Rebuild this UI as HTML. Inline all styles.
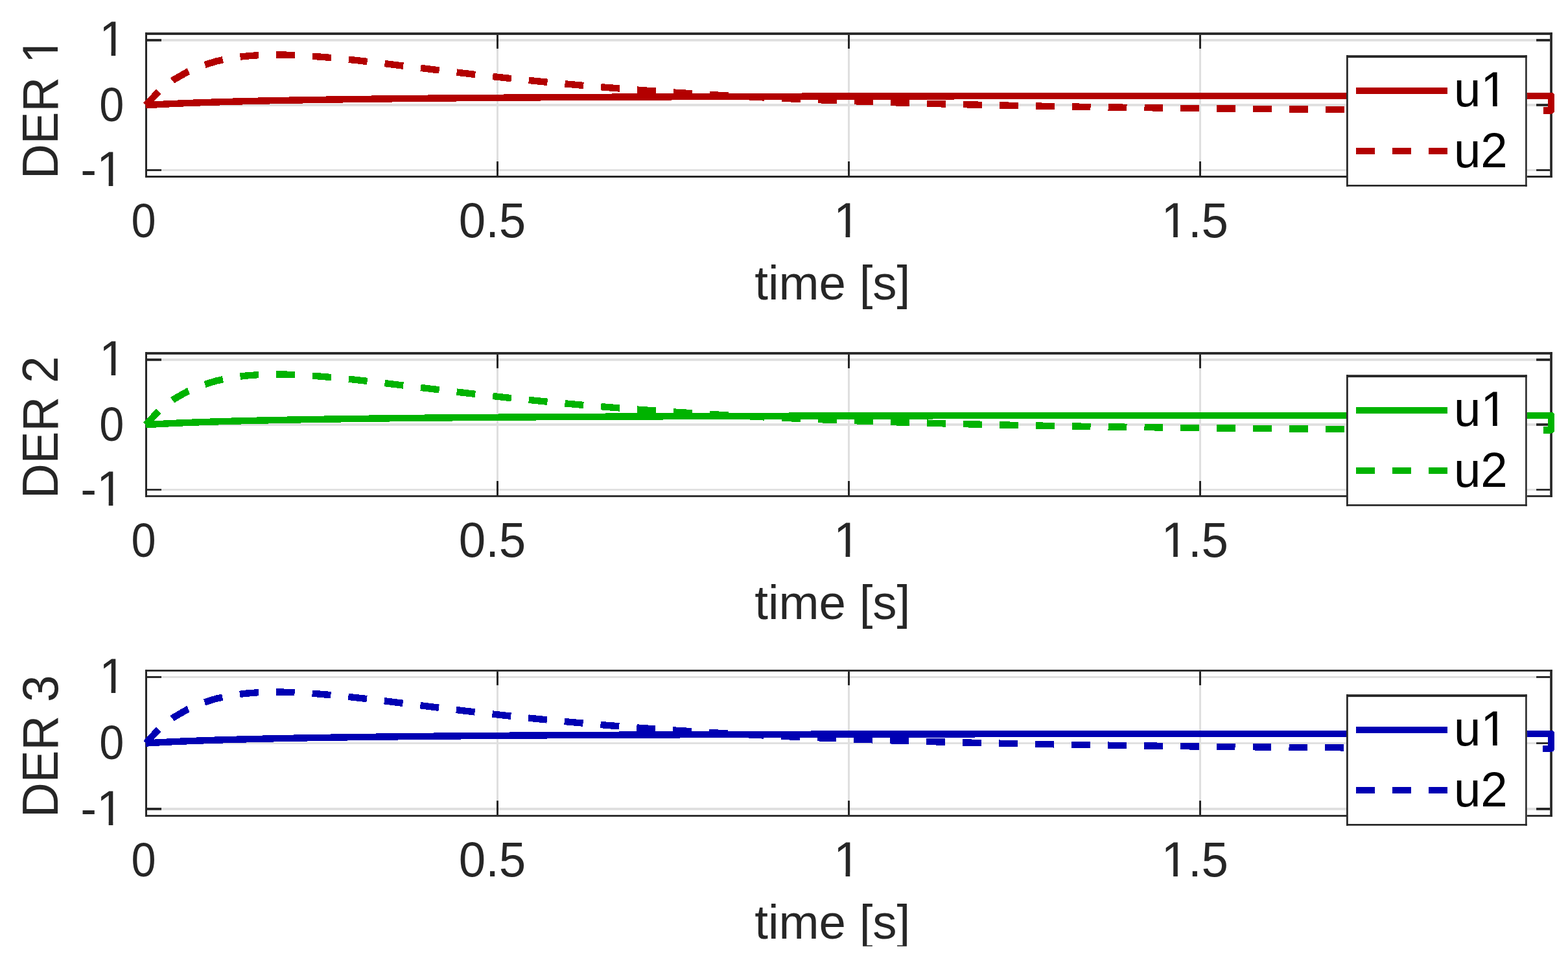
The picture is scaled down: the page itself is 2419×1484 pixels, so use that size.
<!DOCTYPE html>
<html lang="en"><head><meta charset="utf-8"><title>DER control inputs</title>
<style>
html,body{margin:0;padding:0;background:#fff;}
svg{display:block;}
text{font-family:"Liberation Sans",sans-serif;font-size:74.5px;fill:#262626;}
.lg{fill:#000;}
.cv{fill:none;stroke-width:10.4;shape-rendering:crispEdges;stroke-linejoin:round;stroke-linecap:butt;}
</style></head><body>
<svg width="2419" height="1484" viewBox="0 0 2419 1484">
<rect x="0" y="0" width="2419" height="1484" fill="#fff"/>
<defs><clipPath id="k-1" clipPathUnits="userSpaceOnUse"><rect x="-30" y="-100" width="170.00" height="94.08"/><rect x="18.68" y="-6.42" width="6.68" height="12"/><rect x="-30" y="-6.42" width="34.47" height="40"/><rect x="39.00" y="-6.42" width="101.00" height="40"/></clipPath><clipPath id="k-m1" clipPathUnits="userSpaceOnUse"><rect x="-30" y="-100" width="130.00" height="94.08"/><rect x="43.49" y="-6.42" width="6.68" height="12"/><rect x="-30" y="-6.42" width="59.28" height="40"/><rect x="63.80" y="-6.42" width="36.20" height="40"/></clipPath><clipPath id="k-u1" clipPathUnits="userSpaceOnUse"><rect x="-30" y="-100" width="150.00" height="94.08"/><rect x="60.12" y="-6.42" width="6.68" height="12"/><rect x="-30" y="-6.42" width="75.91" height="40"/><rect x="80.43" y="-6.42" width="39.57" height="40"/></clipPath><clipPath id="k-der1" clipPathUnits="userSpaceOnUse"><rect x="-30" y="-100" width="290.00" height="94.08"/><rect x="196.68" y="-6.42" width="6.68" height="12"/><rect x="-30" y="-6.42" width="212.47" height="40"/><rect x="216.99" y="-6.42" width="43.01" height="40"/></clipPath></defs>
<g id="der1">
<rect x="227.00" y="60.10" width="2164.20" height="3.75" fill="#dfdfdf"/>
<rect x="227.00" y="160.10" width="2164.20" height="3.80" fill="#dfdfdf"/>
<rect x="227.00" y="261.00" width="2164.20" height="2.90" fill="#dfdfdf"/>
<rect x="766.00" y="53.90" width="3.00" height="217.10" fill="#dfdfdf"/>
<rect x="1308.00" y="53.90" width="3.00" height="217.10" fill="#dfdfdf"/>
<rect x="1850.00" y="53.90" width="3.00" height="217.10" fill="#dfdfdf"/>
<rect x="224.00" y="50.10" width="2170.90" height="3.80" fill="#262626"/>
<rect x="224.00" y="271.00" width="2170.90" height="3.00" fill="#262626"/>
<rect x="224.00" y="50.10" width="3.00" height="223.90" fill="#262626"/>
<rect x="2391.20" y="50.10" width="3.70" height="223.90" fill="#262626"/>
<rect x="227.00" y="60.10" width="22.00" height="3.75" fill="#262626"/>
<rect x="2370.10" y="60.10" width="21.10" height="3.75" fill="#262626"/>
<rect x="227.00" y="160.10" width="22.00" height="3.80" fill="#262626"/>
<rect x="2370.10" y="160.10" width="21.10" height="3.80" fill="#262626"/>
<rect x="227.00" y="261.00" width="22.00" height="2.90" fill="#262626"/>
<rect x="2370.10" y="261.00" width="21.10" height="2.90" fill="#262626"/>
<rect x="766.00" y="53.90" width="3.00" height="21.20" fill="#262626"/>
<rect x="766.00" y="249.00" width="3.00" height="22.00" fill="#262626"/>
<rect x="1308.00" y="53.90" width="3.00" height="21.20" fill="#262626"/>
<rect x="1308.00" y="249.00" width="3.00" height="22.00" fill="#262626"/>
<rect x="1850.00" y="53.90" width="3.00" height="21.20" fill="#262626"/>
<rect x="1850.00" y="249.00" width="3.00" height="22.00" fill="#262626"/>
<path class="cv" d="M225.00,162.25 L246.68,161.00 L268.36,159.93 L290.04,159.00 L311.72,158.19 L333.40,157.46 L355.08,156.82 L376.76,156.23 L398.44,155.70 L420.12,155.22 L441.80,154.78 L463.48,154.37 L485.16,153.99 L506.84,153.64 L528.52,153.31 L550.20,153.00 L571.88,152.72 L593.56,152.45 L615.24,152.19 L636.92,151.95 L658.60,151.73 L680.28,151.52 L701.96,151.32 L723.64,151.13 L745.32,150.95 L767.00,150.78 L788.68,150.62 L810.36,150.47 L832.04,150.33 L853.72,150.19 L875.40,150.06 L897.08,149.94 L918.76,149.83 L940.44,149.72 L962.12,149.62 L983.80,149.52 L1005.48,149.43 L1027.16,149.34 L1048.84,149.26 L1070.52,149.18 L1092.20,149.11 L1113.88,149.04 L1135.56,148.97 L1157.24,148.91 L1178.92,148.85 L1200.60,148.80 L1222.28,148.74 L1243.96,148.69 L1265.64,148.65 L1287.32,148.60 L1309.00,148.56 L1330.68,148.52 L1352.36,148.48 L1374.04,148.45 L1395.72,148.41 L1417.40,148.38 L1439.08,148.35 L1460.76,148.32 L1482.44,148.29 L1504.12,148.27 L1525.80,148.24 L1547.48,148.22 L1569.16,148.20 L1590.84,148.18 L1612.52,148.16 L1634.20,148.14 L1655.88,148.12 L1677.56,148.10 L1699.24,148.09 L1720.92,148.07 L1742.60,148.06 L1764.28,148.05 L1785.96,148.03 L1807.64,148.02 L1829.32,148.01 L1851.00,148.00 L1872.68,147.99 L1894.36,147.98 L1916.04,147.97 L1937.72,147.96 L1959.40,147.95 L1981.08,147.95 L2002.76,147.94 L2024.44,147.93 L2046.12,147.92 L2067.80,147.92 L2089.48,147.91 L2111.16,147.91 L2132.84,147.90 L2154.52,147.90 L2176.20,147.89 L2197.88,147.89 L2219.56,147.88 L2241.24,147.88 L2262.92,147.88 L2284.60,147.87 L2306.28,147.87 L2327.96,147.87 L2349.64,147.86 L2371.32,147.86 L2393.00,147.86 L2393.00,147.86 L2393.00,162.25" stroke="#b30000"/>
<path class="cv" d="M225.00,162.25 L246.68,139.09 L268.36,122.71 L290.04,110.43 L311.72,101.25 L333.40,94.57 L355.08,89.90 L376.76,86.87 L398.44,85.16 L420.12,84.51 L441.80,84.70 L463.48,85.56 L485.16,86.94 L506.84,88.72 L528.52,90.80 L550.20,93.11 L571.88,95.57 L593.56,98.14 L615.24,100.77 L636.92,103.43 L658.60,106.09 L680.28,108.72 L701.96,111.32 L723.64,113.87 L745.32,116.36 L767.00,118.78 L788.68,121.13 L810.36,123.39 L832.04,125.58 L853.72,127.69 L875.40,129.71 L897.08,131.66 L918.76,133.52 L940.44,135.31 L962.12,137.02 L983.80,138.66 L1005.48,140.22 L1027.16,141.72 L1048.84,143.14 L1070.52,144.51 L1092.20,145.81 L1113.88,147.05 L1135.56,148.23 L1157.24,149.35 L1178.92,150.43 L1200.60,151.45 L1222.28,152.43 L1243.96,153.36 L1265.64,154.24 L1287.32,155.08 L1309.00,155.89 L1330.68,156.65 L1352.36,157.38 L1374.04,158.07 L1395.72,158.73 L1417.40,159.36 L1439.08,159.96 L1460.76,160.53 L1482.44,161.07 L1504.12,161.59 L1525.80,162.08 L1547.48,162.54 L1569.16,162.99 L1590.84,163.41 L1612.52,163.82 L1634.20,164.20 L1655.88,164.57 L1677.56,164.91 L1699.24,165.24 L1720.92,165.56 L1742.60,165.86 L1764.28,166.14 L1785.96,166.42 L1807.64,166.67 L1829.32,166.92 L1851.00,167.15 L1872.68,167.38 L1894.36,167.59 L1916.04,167.79 L1937.72,167.98 L1959.40,168.17 L1981.08,168.34 L2002.76,168.51 L2024.44,168.66 L2046.12,168.81 L2067.80,168.96 L2089.48,169.09 L2111.16,169.22 L2132.84,169.34 L2154.52,169.46 L2176.20,169.57 L2197.88,169.68 L2219.56,169.78 L2241.24,169.88 L2262.92,169.97 L2284.60,170.05 L2306.28,170.14 L2327.96,170.22 L2349.64,170.29 L2371.32,170.36 L2393.00,170.43 L2393.00,170.43 L2393.00,162.25" stroke="#b30000" stroke-dasharray="28.9 27.04"/>
<rect x="2077.00" y="85.20" width="278.70" height="202.50" fill="#fff"/>
<rect x="2077.00" y="85.20" width="278.70" height="3.90" fill="#262626"/>
<rect x="2077.00" y="285.00" width="278.70" height="2.70" fill="#262626"/>
<rect x="2077.00" y="85.20" width="2.75" height="202.50" fill="#262626"/>
<rect x="2353.15" y="85.20" width="2.55" height="202.50" fill="#262626"/>
<path class="cv" d="M2091.9,140.10 L2233.1,140.10" stroke="#b30000"/>
<path class="cv" d="M2091.9,232.80 L2233.1,232.80" stroke="#b30000" stroke-dasharray="29 27.1"/>
<text class="lg" clip-path="url(#k-u1)" transform="translate(2242.90,163.75) scale(1.0,1.02)">u1</text>
<text class="lg" transform="translate(2242.90,258.00) scale(1.0,1.02)">u2</text>
<text clip-path="url(#k-1)" transform="translate(152.90,86.00) scale(1.0,1.02)">1</text>
<text x="-20.72" transform="translate(172.40,187.30) scale(0.92,1.0)">0</text>
<text clip-path="url(#k-m1)" transform="translate(124.20,286.60) scale(1.0,1.02)">-1</text>
<text x="-20.72" transform="translate(221.50,366.30) scale(0.92,1.0)">0</text>
<text transform="translate(707.70,366.00) scale(1.0,1.02)">0.5</text>
<text clip-path="url(#k-1)" transform="translate(1285.90,366.00) scale(1.0,1.02)">1</text>
<text clip-path="url(#k-1)" transform="translate(1791.50,366.00) scale(1.0,1.02)">1.5</text>
<text transform="translate(1164.20,461.90)">time [s]</text>
<text clip-path="url(#k-der1)" transform="translate(89.00,276.00) rotate(-90) scale(1.0,1.037)">DER 1</text>
</g>
<g id="der2">
<rect x="227.00" y="553.06" width="2164.20" height="3.74" fill="#dfdfdf"/>
<rect x="227.00" y="653.10" width="2164.20" height="3.80" fill="#dfdfdf"/>
<rect x="227.00" y="754.10" width="2164.20" height="2.70" fill="#dfdfdf"/>
<rect x="766.00" y="546.90" width="3.00" height="217.10" fill="#dfdfdf"/>
<rect x="1308.00" y="546.90" width="3.00" height="217.10" fill="#dfdfdf"/>
<rect x="1850.00" y="546.90" width="3.00" height="217.10" fill="#dfdfdf"/>
<rect x="224.00" y="543.10" width="2170.90" height="3.80" fill="#262626"/>
<rect x="224.00" y="764.00" width="2170.90" height="2.80" fill="#262626"/>
<rect x="224.00" y="543.10" width="3.00" height="223.70" fill="#262626"/>
<rect x="2391.20" y="543.10" width="3.70" height="223.70" fill="#262626"/>
<rect x="227.00" y="553.06" width="22.00" height="3.74" fill="#262626"/>
<rect x="2370.10" y="553.06" width="21.10" height="3.74" fill="#262626"/>
<rect x="227.00" y="653.10" width="22.00" height="3.80" fill="#262626"/>
<rect x="2370.10" y="653.10" width="21.10" height="3.80" fill="#262626"/>
<rect x="227.00" y="754.10" width="22.00" height="2.70" fill="#262626"/>
<rect x="2370.10" y="754.10" width="21.10" height="2.70" fill="#262626"/>
<rect x="766.00" y="546.90" width="3.00" height="21.20" fill="#262626"/>
<rect x="766.00" y="742.00" width="3.00" height="22.00" fill="#262626"/>
<rect x="1308.00" y="546.90" width="3.00" height="21.20" fill="#262626"/>
<rect x="1308.00" y="742.00" width="3.00" height="22.00" fill="#262626"/>
<rect x="1850.00" y="546.90" width="3.00" height="21.20" fill="#262626"/>
<rect x="1850.00" y="742.00" width="3.00" height="22.00" fill="#262626"/>
<path class="cv" d="M225.00,655.20 L246.68,653.95 L268.36,652.88 L290.04,651.95 L311.72,651.14 L333.40,650.41 L355.08,649.77 L376.76,649.18 L398.44,648.65 L420.12,648.17 L441.80,647.73 L463.48,647.32 L485.16,646.94 L506.84,646.59 L528.52,646.26 L550.20,645.95 L571.88,645.67 L593.56,645.40 L615.24,645.14 L636.92,644.90 L658.60,644.68 L680.28,644.47 L701.96,644.27 L723.64,644.08 L745.32,643.90 L767.00,643.73 L788.68,643.57 L810.36,643.42 L832.04,643.28 L853.72,643.14 L875.40,643.01 L897.08,642.89 L918.76,642.78 L940.44,642.67 L962.12,642.57 L983.80,642.47 L1005.48,642.38 L1027.16,642.29 L1048.84,642.21 L1070.52,642.13 L1092.20,642.06 L1113.88,641.99 L1135.56,641.92 L1157.24,641.86 L1178.92,641.80 L1200.60,641.75 L1222.28,641.69 L1243.96,641.64 L1265.64,641.60 L1287.32,641.55 L1309.00,641.51 L1330.68,641.47 L1352.36,641.43 L1374.04,641.40 L1395.72,641.36 L1417.40,641.33 L1439.08,641.30 L1460.76,641.27 L1482.44,641.24 L1504.12,641.22 L1525.80,641.19 L1547.48,641.17 L1569.16,641.15 L1590.84,641.13 L1612.52,641.11 L1634.20,641.09 L1655.88,641.07 L1677.56,641.05 L1699.24,641.04 L1720.92,641.02 L1742.60,641.01 L1764.28,641.00 L1785.96,640.98 L1807.64,640.97 L1829.32,640.96 L1851.00,640.95 L1872.68,640.94 L1894.36,640.93 L1916.04,640.92 L1937.72,640.91 L1959.40,640.90 L1981.08,640.90 L2002.76,640.89 L2024.44,640.88 L2046.12,640.87 L2067.80,640.87 L2089.48,640.86 L2111.16,640.86 L2132.84,640.85 L2154.52,640.85 L2176.20,640.84 L2197.88,640.84 L2219.56,640.83 L2241.24,640.83 L2262.92,640.83 L2284.60,640.82 L2306.28,640.82 L2327.96,640.82 L2349.64,640.81 L2371.32,640.81 L2393.00,640.81 L2393.00,640.81 L2393.00,655.20" stroke="#00b300"/>
<path class="cv" d="M225.00,655.20 L246.68,632.04 L268.36,615.66 L290.04,603.38 L311.72,594.20 L333.40,587.52 L355.08,582.85 L376.76,579.82 L398.44,578.11 L420.12,577.46 L441.80,577.65 L463.48,578.51 L485.16,579.89 L506.84,581.67 L528.52,583.75 L550.20,586.06 L571.88,588.52 L593.56,591.09 L615.24,593.72 L636.92,596.38 L658.60,599.04 L680.28,601.67 L701.96,604.27 L723.64,606.82 L745.32,609.31 L767.00,611.73 L788.68,614.08 L810.36,616.34 L832.04,618.53 L853.72,620.64 L875.40,622.66 L897.08,624.61 L918.76,626.47 L940.44,628.26 L962.12,629.97 L983.80,631.61 L1005.48,633.17 L1027.16,634.67 L1048.84,636.09 L1070.52,637.46 L1092.20,638.76 L1113.88,640.00 L1135.56,641.18 L1157.24,642.30 L1178.92,643.38 L1200.60,644.40 L1222.28,645.38 L1243.96,646.31 L1265.64,647.19 L1287.32,648.03 L1309.00,648.84 L1330.68,649.60 L1352.36,650.33 L1374.04,651.02 L1395.72,651.68 L1417.40,652.31 L1439.08,652.91 L1460.76,653.48 L1482.44,654.02 L1504.12,654.54 L1525.80,655.03 L1547.48,655.49 L1569.16,655.94 L1590.84,656.36 L1612.52,656.77 L1634.20,657.15 L1655.88,657.52 L1677.56,657.86 L1699.24,658.19 L1720.92,658.51 L1742.60,658.81 L1764.28,659.09 L1785.96,659.37 L1807.64,659.62 L1829.32,659.87 L1851.00,660.10 L1872.68,660.33 L1894.36,660.54 L1916.04,660.74 L1937.72,660.93 L1959.40,661.12 L1981.08,661.29 L2002.76,661.46 L2024.44,661.61 L2046.12,661.76 L2067.80,661.91 L2089.48,662.04 L2111.16,662.17 L2132.84,662.29 L2154.52,662.41 L2176.20,662.52 L2197.88,662.63 L2219.56,662.73 L2241.24,662.83 L2262.92,662.92 L2284.60,663.00 L2306.28,663.09 L2327.96,663.17 L2349.64,663.24 L2371.32,663.31 L2393.00,663.38 L2393.00,663.38 L2393.00,655.20" stroke="#00b300" stroke-dasharray="28.9 27.04"/>
<rect x="2077.00" y="578.20" width="278.70" height="202.50" fill="#fff"/>
<rect x="2077.00" y="578.20" width="278.70" height="3.90" fill="#262626"/>
<rect x="2077.00" y="778.00" width="278.70" height="2.70" fill="#262626"/>
<rect x="2077.00" y="578.20" width="2.75" height="202.50" fill="#262626"/>
<rect x="2353.15" y="578.20" width="2.55" height="202.50" fill="#262626"/>
<path class="cv" d="M2091.9,633.10 L2233.1,633.10" stroke="#00b300"/>
<path class="cv" d="M2091.9,725.80 L2233.1,725.80" stroke="#00b300" stroke-dasharray="29 27.1"/>
<text class="lg" clip-path="url(#k-u1)" transform="translate(2242.90,656.75) scale(1.0,1.02)">u1</text>
<text class="lg" transform="translate(2242.90,751.00) scale(1.0,1.02)">u2</text>
<text clip-path="url(#k-1)" transform="translate(152.90,579.00) scale(1.0,1.02)">1</text>
<text x="-20.72" transform="translate(172.40,680.30) scale(0.92,1.0)">0</text>
<text clip-path="url(#k-m1)" transform="translate(124.20,779.60) scale(1.0,1.02)">-1</text>
<text x="-20.72" transform="translate(221.50,859.30) scale(0.92,1.0)">0</text>
<text transform="translate(707.70,859.00) scale(1.0,1.02)">0.5</text>
<text clip-path="url(#k-1)" transform="translate(1285.90,859.00) scale(1.0,1.02)">1</text>
<text clip-path="url(#k-1)" transform="translate(1791.50,859.00) scale(1.0,1.02)">1.5</text>
<text transform="translate(1164.20,954.90)">time [s]</text>
<text transform="translate(89.00,769.00) rotate(-90) scale(1.0,1.037)">DER 2</text>
</g>
<g id="der3">
<rect x="227.00" y="1043.00" width="2164.20" height="2.90" fill="#dfdfdf"/>
<rect x="227.00" y="1145.10" width="2164.20" height="2.80" fill="#dfdfdf"/>
<rect x="227.00" y="1246.00" width="2164.20" height="3.80" fill="#dfdfdf"/>
<rect x="766.00" y="1035.90" width="3.00" height="221.20" fill="#dfdfdf"/>
<rect x="1308.00" y="1035.90" width="3.00" height="221.20" fill="#dfdfdf"/>
<rect x="1850.00" y="1035.90" width="3.00" height="221.20" fill="#dfdfdf"/>
<rect x="224.00" y="1033.10" width="2170.90" height="2.80" fill="#262626"/>
<rect x="224.00" y="1257.10" width="2170.90" height="2.80" fill="#262626"/>
<rect x="224.00" y="1033.10" width="3.00" height="226.80" fill="#262626"/>
<rect x="2391.20" y="1033.10" width="3.70" height="226.80" fill="#262626"/>
<rect x="227.00" y="1043.00" width="22.00" height="2.90" fill="#262626"/>
<rect x="2370.10" y="1043.00" width="21.10" height="2.90" fill="#262626"/>
<rect x="227.00" y="1145.10" width="22.00" height="2.80" fill="#262626"/>
<rect x="2370.10" y="1145.10" width="21.10" height="2.80" fill="#262626"/>
<rect x="227.00" y="1246.00" width="22.00" height="3.80" fill="#262626"/>
<rect x="2370.10" y="1246.00" width="21.10" height="3.80" fill="#262626"/>
<rect x="766.00" y="1035.90" width="3.00" height="21.20" fill="#262626"/>
<rect x="766.00" y="1235.10" width="3.00" height="22.00" fill="#262626"/>
<rect x="1308.00" y="1035.90" width="3.00" height="21.20" fill="#262626"/>
<rect x="1308.00" y="1235.10" width="3.00" height="22.00" fill="#262626"/>
<rect x="1850.00" y="1035.90" width="3.00" height="21.20" fill="#262626"/>
<rect x="1850.00" y="1235.10" width="3.00" height="22.00" fill="#262626"/>
<path class="cv" d="M225.00,1146.50 L246.68,1145.24 L268.36,1144.15 L290.04,1143.20 L311.72,1142.37 L333.40,1141.64 L355.08,1140.98 L376.76,1140.39 L398.44,1139.85 L420.12,1139.36 L441.80,1138.91 L463.48,1138.50 L485.16,1138.11 L506.84,1137.75 L528.52,1137.42 L550.20,1137.11 L571.88,1136.82 L593.56,1136.54 L615.24,1136.29 L636.92,1136.04 L658.60,1135.81 L680.28,1135.60 L701.96,1135.39 L723.64,1135.20 L745.32,1135.02 L767.00,1134.85 L788.68,1134.69 L810.36,1134.53 L832.04,1134.39 L853.72,1134.25 L875.40,1134.12 L897.08,1134.00 L918.76,1133.88 L940.44,1133.77 L962.12,1133.67 L983.80,1133.57 L1005.48,1133.48 L1027.16,1133.39 L1048.84,1133.31 L1070.52,1133.23 L1092.20,1133.15 L1113.88,1133.08 L1135.56,1133.02 L1157.24,1132.95 L1178.92,1132.89 L1200.60,1132.84 L1222.28,1132.78 L1243.96,1132.73 L1265.64,1132.68 L1287.32,1132.64 L1309.00,1132.60 L1330.68,1132.56 L1352.36,1132.52 L1374.04,1132.48 L1395.72,1132.45 L1417.40,1132.41 L1439.08,1132.38 L1460.76,1132.35 L1482.44,1132.32 L1504.12,1132.30 L1525.80,1132.27 L1547.48,1132.25 L1569.16,1132.23 L1590.84,1132.21 L1612.52,1132.19 L1634.20,1132.17 L1655.88,1132.15 L1677.56,1132.13 L1699.24,1132.12 L1720.92,1132.10 L1742.60,1132.09 L1764.28,1132.07 L1785.96,1132.06 L1807.64,1132.05 L1829.32,1132.04 L1851.00,1132.03 L1872.68,1132.02 L1894.36,1132.01 L1916.04,1132.00 L1937.72,1131.99 L1959.40,1131.98 L1981.08,1131.97 L2002.76,1131.96 L2024.44,1131.96 L2046.12,1131.95 L2067.80,1131.94 L2089.48,1131.94 L2111.16,1131.93 L2132.84,1131.93 L2154.52,1131.92 L2176.20,1131.92 L2197.88,1131.91 L2219.56,1131.91 L2241.24,1131.90 L2262.92,1131.90 L2284.60,1131.90 L2306.28,1131.89 L2327.96,1131.89 L2349.64,1131.89 L2371.32,1131.88 L2393.00,1131.88 L2393.00,1131.88 L2393.00,1146.50" stroke="#0000b3"/>
<path class="cv" d="M225.00,1146.50 L246.68,1122.98 L268.36,1106.34 L290.04,1093.86 L311.72,1084.55 L333.40,1077.76 L355.08,1073.02 L376.76,1069.94 L398.44,1068.21 L420.12,1067.54 L441.80,1067.74 L463.48,1068.61 L485.16,1070.01 L506.84,1071.82 L528.52,1073.93 L550.20,1076.27 L571.88,1078.77 L593.56,1081.38 L615.24,1084.05 L636.92,1086.75 L658.60,1089.46 L680.28,1092.14 L701.96,1094.78 L723.64,1097.37 L745.32,1099.89 L767.00,1102.35 L788.68,1104.73 L810.36,1107.04 L832.04,1109.26 L853.72,1111.40 L875.40,1113.45 L897.08,1115.43 L918.76,1117.32 L940.44,1119.14 L962.12,1120.88 L983.80,1122.54 L1005.48,1124.13 L1027.16,1125.65 L1048.84,1127.10 L1070.52,1128.48 L1092.20,1129.80 L1113.88,1131.06 L1135.56,1132.26 L1157.24,1133.40 L1178.92,1134.49 L1200.60,1135.53 L1222.28,1136.52 L1243.96,1137.47 L1265.64,1138.37 L1287.32,1139.22 L1309.00,1140.04 L1330.68,1140.81 L1352.36,1141.55 L1374.04,1142.26 L1395.72,1142.93 L1417.40,1143.57 L1439.08,1144.17 L1460.76,1144.75 L1482.44,1145.30 L1504.12,1145.83 L1525.80,1146.32 L1547.48,1146.80 L1569.16,1147.25 L1590.84,1147.68 L1612.52,1148.09 L1634.20,1148.48 L1655.88,1148.85 L1677.56,1149.20 L1699.24,1149.54 L1720.92,1149.86 L1742.60,1150.17 L1764.28,1150.45 L1785.96,1150.73 L1807.64,1150.99 L1829.32,1151.24 L1851.00,1151.48 L1872.68,1151.71 L1894.36,1151.92 L1916.04,1152.13 L1937.72,1152.32 L1959.40,1152.51 L1981.08,1152.69 L2002.76,1152.85 L2024.44,1153.01 L2046.12,1153.17 L2067.80,1153.31 L2089.48,1153.45 L2111.16,1153.58 L2132.84,1153.71 L2154.52,1153.82 L2176.20,1153.94 L2197.88,1154.05 L2219.56,1154.15 L2241.24,1154.25 L2262.92,1154.34 L2284.60,1154.43 L2306.28,1154.51 L2327.96,1154.59 L2349.64,1154.67 L2371.32,1154.74 L2393.00,1154.81 L2393.00,1154.81 L2393.00,1146.50" stroke="#0000b3" stroke-dasharray="28.9 27.04"/>
<rect x="2077.00" y="1071.20" width="278.70" height="202.50" fill="#fff"/>
<rect x="2077.00" y="1071.20" width="278.70" height="3.90" fill="#262626"/>
<rect x="2077.00" y="1271.00" width="278.70" height="2.70" fill="#262626"/>
<rect x="2077.00" y="1071.20" width="2.75" height="202.50" fill="#262626"/>
<rect x="2353.15" y="1071.20" width="2.55" height="202.50" fill="#262626"/>
<path class="cv" d="M2091.9,1126.10 L2233.1,1126.10" stroke="#0000b3"/>
<path class="cv" d="M2091.9,1218.80 L2233.1,1218.80" stroke="#0000b3" stroke-dasharray="29 27.1"/>
<text class="lg" clip-path="url(#k-u1)" transform="translate(2242.90,1149.75) scale(1.0,1.02)">u1</text>
<text class="lg" transform="translate(2242.90,1244.00) scale(1.0,1.02)">u2</text>
<text clip-path="url(#k-1)" transform="translate(152.90,1069.00) scale(1.0,1.02)">1</text>
<text x="-20.72" transform="translate(172.40,1171.40) scale(0.92,1.0)">0</text>
<text clip-path="url(#k-m1)" transform="translate(124.20,1272.60) scale(1.0,1.02)">-1</text>
<text x="-20.72" transform="translate(221.50,1352.30) scale(0.92,1.0)">0</text>
<text transform="translate(707.70,1352.00) scale(1.0,1.02)">0.5</text>
<text clip-path="url(#k-1)" transform="translate(1285.90,1352.00) scale(1.0,1.02)">1</text>
<text clip-path="url(#k-1)" transform="translate(1791.50,1352.00) scale(1.0,1.02)">1.5</text>
<text transform="translate(1164.20,1447.90)">time [s]</text>
<text transform="translate(89.00,1261.00) rotate(-90) scale(1.0,1.037)">DER 3</text>
</g>
<rect x="0" y="1459.8" width="2419" height="24.2" fill="#fff"/>
</svg>
</body></html>
